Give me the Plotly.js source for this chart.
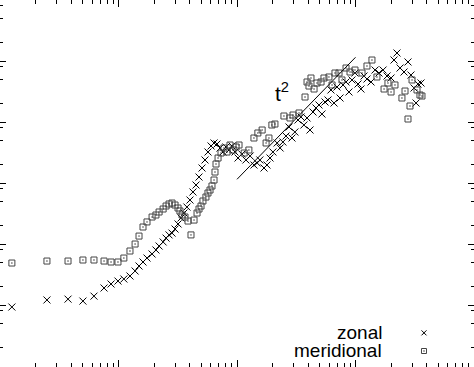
<!DOCTYPE html>
<html>
<head>
<meta charset="utf-8">
<script src="https://cdn.plot.ly/plotly-3.0.1.min.js"></script>
<style>html,body{margin:0;padding:0;background:#fff;}#chart{width:474px;height:367px;}</style>
</head>
<body>
<div id="chart"></div>
<script>
// ---- data ----
const zonalT = [1.26, 2.49, 3.75, 5.01, 6.21, 7.55, 8.65, 9.9, 11.1, 12.5,
  13.8, 14.9, 16.1, 17.4, 19.2, 20.7, 22.0, 23.8, 25.2, 26.7,
  28.3, 30.0, 31.8, 33.7, 35.7, 37.8, 40.1, 42.5, 45.1, 47.8,
  50.7, 53.7, 56.9, 60.4, 64.0, 67.8, 71.9, 76.2, 80.8, 85.6,
  90.7, 96.2, 102, 110, 119, 129, 139, 148, 156, 169,
  179, 190, 201, 218, 231, 244, 259, 275, 291, 308,
  327, 347, 367, 390, 413, 438, 464, 492, 521, 553,
  586, 621, 659, 698, 740, 785, 832, 881, 934, 990,
  1050, 1112, 1180, 1250, 1352, 1462, 1578, 1708, 1845, 1995,
  2113, 2239, 2377, 2567, 2773, 2938, 3119, 3243, 3365, 3573];
const zonalV = [9.27, 12.1, 12.5, 11.6, 14.0, 19.0, 22.1, 24.7, 26.7, 29.9,
  36.1, 43.6, 50.7, 58.9, 68.6, 79.8, 92.7, 108, 125, 141,
  151, 176, 213, 267, 322, 404, 526, 712, 927, 1253,
  1762, 2384, 3222, 4045, 4529, 4357, 3750, 3222, 3890, 3475,
  4045, 3222, 2570, 2985, 2384, 2773, 1972, 2128, 2384, 1762,
  1972, 2570, 3222, 4529, 3750, 4699, 5891, 8283, 5469, 6855,
  10790, 12080, 8933, 11640, 7396, 14590, 16980, 19010, 13520, 21280,
  22960, 33500, 20470, 37500, 24740, 40450, 45290, 31050, 48870, 63580,
  41980, 34760, 56760, 50700, 45290, 71150, 63580, 71150, 56760, 52630,
  103800, 135200, 76770, 66030, 96380, 58890, 36080, 20470, 41980, 43570];

const meridT = [1.26, 2.49, 3.75, 5.01, 6.21, 7.55, 8.65, 9.9, 11.1, 12.5,
  13.8, 14.9, 16.1, 17.4, 19.2, 20.7, 22.0, 23.8, 25.2, 26.7,
  28.3, 30.0, 31.8, 33.0, 34.4, 36.4, 38.6, 40.9, 43.4, 46.0,
  47.8, 49.7, 51.6, 54.7, 56.9, 59.2, 61.5, 64.0, 65.2, 66.5,
  69.2, 73.3, 77.6, 82.4, 87.3, 92.5, 98.2, 104, 115, 126,
  139, 150, 163, 176, 186, 197, 209, 249, 280, 297,
  334, 375, 390, 405, 421, 447, 473, 512, 542, 597,
  634, 671, 726, 769, 832, 899, 990, 1135, 1250, 1377,
  1517, 1742, 1879, 1995, 2153, 2466, 2618, 2773, 2884, 3000,
  3304, 3499, 3639];
const meridV = [48.8, 52.6, 52.6, 54.7, 54.7, 52.6, 50.7, 50.7, 58.9, 76.8,
  100, 135, 190, 230, 277, 299, 335, 375, 420, 453,
  470, 436, 389, 348, 299, 277, 238, 141, 247, 322,
  375, 420, 507, 589, 686, 768, 893, 1120, 1514, 2048,
  2570, 3103, 3750, 3222, 4198, 3475, 3890, 4198, 3103, 3475,
  5469, 6607, 7396, 4529, 5469, 8933, 9268, 12540, 11640, 13030,
  14060, 25700, 45290, 38900, 52630, 34760, 43570, 45290, 52630, 54700,
  40450, 63580, 63580, 48870, 76770, 66030, 71150, 63580, 82800, 103800,
  54700, 34760, 43570, 31050, 40450, 24740, 32210, 11200, 18290, 48870,
  33500, 27730, 26670];

// t^2 guide line
const guideT = [100, 1000];
const guideV = [1150, 115000];

const seriesNames = ['zonal', 'meridional'];
const guideLabel = 't<sup>2</sup>';
const guideLabelPos = [240, 31000];

// tick positions
const xMajor = [1, 10, 100, 1000, 10000];
const xMinorMult = [2, 3, 4, 5, 6, 7, 8, 9];
const yMajor = [1, 10, 100, 1e3, 1e4, 1e5, 1e6];
const yMinorMult = [2, 5, 8];

const xMinor = [];
xMajor.slice(0, -1).forEach(d => xMinorMult.forEach(m => xMinor.push(d * m)));
const yMinor = [];
yMajor.slice(0, -1).forEach(d => yMinorMult.forEach(m => yMinor.push(d * m)));

const FONT = 'Liberation Sans, Arial, Helvetica, sans-serif';

const zonalMarker = {symbol: 'x-thin', size: 7, color: '#000', line: {width: 1, color: '#000'}};
const meridMarker = {symbol: 'square-open-dot', size: 6, color: '#444', line: {width: 1, color: '#444'}};

const traces = [
  {x: zonalT, y: zonalV, mode: 'markers', type: 'scatter', name: seriesNames[0], marker: zonalMarker},
  {x: meridT, y: meridV, mode: 'markers', type: 'scatter', name: seriesNames[1], marker: meridMarker},
  {x: guideT, y: guideV, mode: 'lines', type: 'scatter', line: {color: '#000', width: 1}, hoverinfo: 'skip'},
  // legend samples (paper-like overlay axes)
  {x: [0.8945], y: [0.093], xaxis: 'x2', yaxis: 'y2', mode: 'markers', type: 'scatter',
   marker: {symbol: 'x-thin', size: 5, color: '#000', line: {width: 1, color: '#000'}}},
  {x: [0.8945], y: [0.0436], xaxis: 'x2', yaxis: 'y2', mode: 'markers', type: 'scatter',
   marker: {symbol: 'square-open-dot', size: 5, color: '#444', line: {width: 1, color: '#444'}}}
];

const axisCommon = {
  type: 'log', showgrid: false, zeroline: false, showline: false,
  ticks: 'inside', tickwidth: 1, tickcolor: '#000', mirror: 'ticks',
  tickmode: 'array', showticklabels: false
};

const layout = {
  width: 474, height: 367,
  margin: {l: 0, r: 0, t: 0, b: 0, pad: 0},
  paper_bgcolor: '#fff', plot_bgcolor: '#fff',
  showlegend: false,
  font: {family: FONT, color: '#000'},
  xaxis: Object.assign({}, axisCommon, {
    range: [0, 4], tickvals: xMajor, ticklen: 7,
    minor: {tickmode: 'array', tickvals: xMinor, ticks: 'inside', ticklen: 4, tickwidth: 1, tickcolor: '#000', showgrid: false}
  }),
  yaxis: Object.assign({}, axisCommon, {
    range: [-0.016, 6], tickvals: yMajor, ticklen: 6,
    minor: {tickmode: 'array', tickvals: yMinor, ticks: 'inside', ticklen: 3, tickwidth: 1, tickcolor: '#000', showgrid: false}
  }),
  xaxis2: {overlaying: 'x', range: [0, 1], visible: false, fixedrange: true},
  yaxis2: {overlaying: 'y', range: [0, 1], visible: false, fixedrange: true},
  annotations: [
    {x: Math.log10(guideLabelPos[0]), y: Math.log10(guideLabelPos[1]), xref: 'x', yref: 'y',
     text: guideLabel, showarrow: false, font: {family: FONT, size: 21, color: '#000'},
     xanchor: 'center', yanchor: 'middle'},
    {x: 0.81, y: 0.093, xref: 'paper', yref: 'paper', text: seriesNames[0], showarrow: false,
     xanchor: 'right', yanchor: 'middle', font: {family: FONT, size: 19, color: '#000'}},
    {x: 0.81, y: 0.0436, xref: 'paper', yref: 'paper', text: seriesNames[1], showarrow: false,
     xanchor: 'right', yanchor: 'middle', font: {family: FONT, size: 19, color: '#000'}}
  ]
};

Plotly.newPlot('chart', traces, layout, {displayModeBar: false, staticPlot: true});
</script>
</body>
</html>
